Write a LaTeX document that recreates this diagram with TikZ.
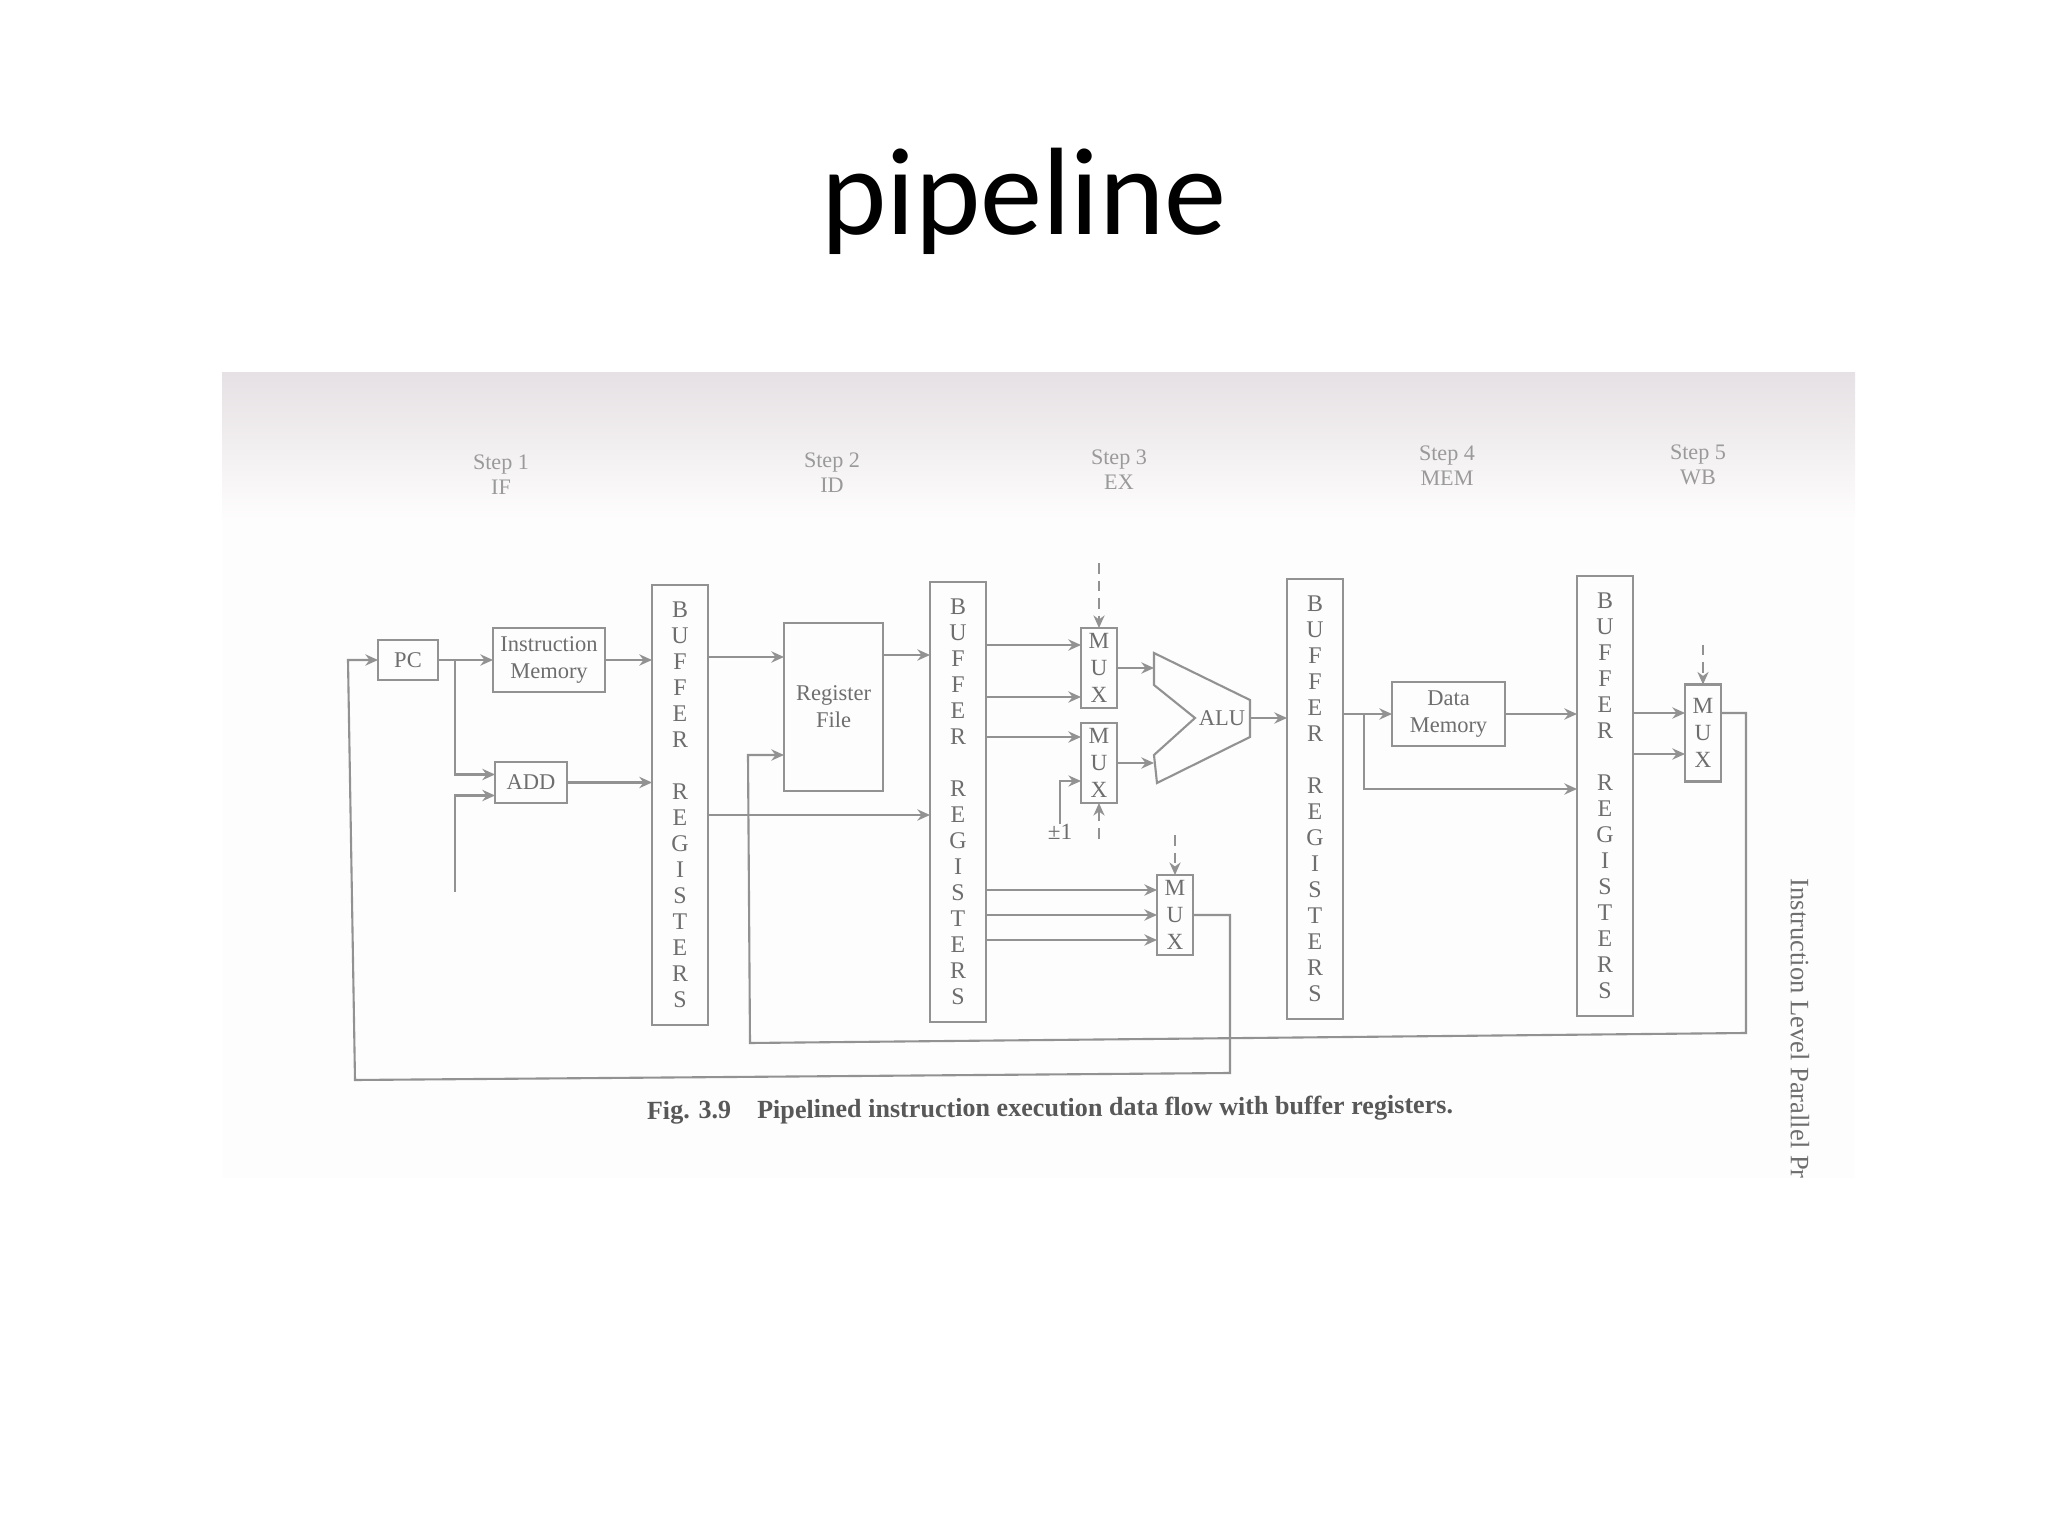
\documentclass[tikz,border=0pt]{standalone}
\usepackage{fontspec}
\setmainfont{Liberation Serif}
\newfontfamily\titlefont{Carlito}
\usetikzlibrary{arrows.meta, positioning, calc}
\usepackage{xcolor}
\definecolor{wireink}{HTML}{929292}
\definecolor{textink}{HTML}{6E6E6E}
\definecolor{scantop}{HTML}{E6E1E4}
\definecolor{scanmid}{HTML}{F9F4F5}
\definecolor{scanpage}{HTML}{FEFDFD}
\newcommand{\bufferletters}{B\\U\\F\\F\\E\\R\\[7.4pt]R\\E\\G\\I\\S\\T\\E\\R\\S}

\begin{document}
\begin{tikzpicture}[
    wire/.style={draw=wireink, line width=0.6pt},
    arrow/.style={wire, ->, >={Stealth[length=3.6pt, width=3.2pt]}},
    ctrl/.style={arrow, densely dashed, line width=0.4pt},
    box/.style={wire, rectangle, inner sep=0pt, outer sep=0pt, align=center, text=textink, font=\fontsize{6.4}{7.6}\selectfont},
    bufbox/.style={box, minimum width=0.56cm, minimum height=4.4cm, font=\fontsize{6.8}{7.4}\selectfont},
    muxbox/.style={box, minimum width=0.36cm, minimum height=0.8cm, font=\fontsize{6.6}{7.6}\selectfont},
    steplabel/.style={align=center, text=textink!70, inner sep=0pt, font=\fontsize{6.3}{7.2}\selectfont}
]
\useasboundingbox (0,0) rectangle (20.48,-15.36);

% Scanned page
\fill[scanpage] (2.22,-3.73) rectangle (18.55,-11.78);
\shade[top color=scantop, middle color=scanmid, bottom color=scanpage] (2.22,-3.73) rectangle (18.55,-5.2);

\node (title) [anchor=base, inner sep=0pt, font=\titlefont\fontsize{35.4}{42}\selectfont] at (10.24,-2.35) {pipeline};

% Step labels
\node (step1) [steplabel] at (5.01,-4.75) {Step 1\\IF};
\node (step2) [steplabel] at (8.32,-4.73) {Step 2\\ID};
\node (step3) [steplabel] at (11.19,-4.70) {Step 3\\EX};
\node (step4) [steplabel] at (14.47,-4.66) {Step 4\\MEM};
\node (step5) [steplabel] at (16.98,-4.65) {Step 5\\WB};

% Fetch
\node (pc) [box, minimum width=0.6cm, minimum height=0.4cm] at (4.08,-6.60) {PC};
\node (imem) [box, minimum width=1.12cm, minimum height=0.64cm, right=0.55cm of pc] {Instruction\\Memory};
\node (add) [box, minimum width=0.72cm, minimum height=0.41cm, below=0.7cm of imem, xshift=-0.18cm] {ADD};
\node (buf1) [bufbox, right=0.47cm of imem, yshift=-1.45cm] {\bufferletters};

\draw [arrow] (pc) -- (imem);
\draw [arrow] (imem.east) -- (imem.east -| buf1.west);
\draw [arrow] (add.east) -- (add.east -| buf1.west);
\coordinate (pctap) at ($(pc.east)+(0.17,0)$);
\coordinate (pcfree) at (4.55,-8.92);
\draw [arrow] (pctap) |- ([yshift=0.08cm]add.west);
\draw [arrow] (pcfree) |- ([yshift=-0.13cm]add.west);

% Decode
\node (regfile) [box, minimum width=0.99cm, minimum height=1.68cm, right=0.76cm of buf1, yshift=0.98cm] {Register\\File};
\node (buf2) [bufbox, right=0.47cm of regfile, yshift=-0.95cm] {\bufferletters};

\draw [arrow] ([yshift=0.5cm]regfile.west -| buf1.east) -- ([yshift=0.5cm]regfile.west);
\draw [arrow] ([yshift=0.52cm]regfile.east) -- ([yshift=0.52cm]regfile.east -| buf2.west);
\draw [arrow] ([yshift=-0.1cm]buf1.east) -- ([yshift=-0.1cm]buf1.east -| buf2.west);

% Execute
\node (mux1) [muxbox, right=0.95cm of buf2, yshift=1.34cm] {M\\U\\X};
\node (mux2) [muxbox, below=0.15cm of mux1] {M\\U\\X};
\node (mux3) [muxbox, below=0.72cm of mux2, xshift=0.76cm] {M\\U\\X};
\node (alu) [box, draw=none, inner sep=0pt] at (12.22,-7.18) {ALU};
\node (plusone) [steplabel, text=textink, font=\fontsize{6.6}{7.6}\selectfont] at (10.60,-8.32) {±1};
\coordinate (alua) at (11.54,-6.53);
\coordinate (alub) at (12.50,-7.00);
\coordinate (aluc) at (12.50,-7.37);
\coordinate (alud) at (11.57,-7.83);
\coordinate (alue) at (11.54,-7.55);
\coordinate (aluf) at (11.95,-7.18);
\coordinate (alug) at (11.54,-6.85);
\draw [wire] (alua) -- (alub) -- (aluc) -- (alud) -- (alue) -- (aluf) -- (alug) -- cycle;

\foreach \dy in {0.23,-0.29} {
    \draw [arrow] ([yshift=\dy cm]mux1.west -| buf2.east) -- ([yshift=\dy cm]mux1.west);
}
\draw [arrow] ([yshift=0.26cm]mux2.west -| buf2.east) -- ([yshift=0.26cm]mux2.west);
\foreach \dy in {0.25,0,-0.25} {
    \draw [arrow] ([yshift=\dy cm]mux3.west -| buf2.east) -- ([yshift=\dy cm]mux3.west);
}
\draw [arrow] (mux1.east) -- (mux1.east -| alua);
\draw [arrow] (mux2.east) -- (mux2.east -| alua);
\draw [ctrl] ([yshift=0.65cm]mux1.north) -- (mux1.north);
\draw [ctrl] ([yshift=-0.36cm]mux2.south) -- (mux2.south);
\draw [ctrl] ([yshift=0.4cm]mux3.north) -- (mux3.north);
\draw [arrow, line width=0.4pt] (plusone.north) |- ([yshift=-0.18cm]mux2.west);

% Memory
\node (buf3) [bufbox] at (13.15,-7.99) {\bufferletters};
\node (dmem) [box, minimum width=1.13cm, minimum height=0.64cm, right=0.49cm of buf3, yshift=0.85cm] {Data\\Memory};
\node (buf4) [bufbox, right=0.72cm of dmem, yshift=-0.82cm] {\bufferletters};

\draw [arrow] (aluc |- alu) -- (alu -| buf3.west);
\draw [arrow] (dmem.west -| buf3.east) -- (dmem.west);
\draw [arrow] (dmem.east) -- (dmem.east -| buf4.west);
\coordinate (memtap) at ($(dmem.west -| buf3.east)+(0.21,0)$);
\draw [arrow] (memtap) |- ([yshift=0.07cm]buf4.west);

% Write back
\node (mux5) [muxbox, minimum height=0.97cm, right=0.52cm of buf4, yshift=0.63cm] {M\\U\\X};
\draw [arrow] ([yshift=0.2cm]mux5.west -| buf4.east) -- ([yshift=0.2cm]mux5.west);
\draw [arrow] ([yshift=-0.21cm]mux5.west -| buf4.east) -- ([yshift=-0.21cm]mux5.west);
\draw [ctrl] ([yshift=0.4cm]mux5.north) -- (mux5.north);

% Feedback
\coordinate (wbcorner) at (17.46,-10.33);
\coordinate (wbleft) at (7.50,-10.43);
\coordinate (wbtop) at (7.48,-7.55);
\coordinate (fbcorner) at (12.30,-10.73);
\coordinate (fbleft) at (3.55,-10.80);
\coordinate (fbtop) at (3.48,-6.60);
\draw [arrow] ([yshift=0.2cm]mux5.east) -| (wbcorner) -- (wbleft) -- (wbtop) -- (wbtop -| regfile.west);
\draw [arrow] (mux3.east) -| (fbcorner) -- (fbleft) -- (fbtop) -- (pc.west);

% Caption
\node (caption) [text=textink!80!black, inner sep=0pt, rotate=0.4, font=\fontsize{7.43}{8}\selectfont\bfseries] at (10.50,-11.10) {Fig. 3.9\quad Pipelined instruction execution data flow with buffer registers.};
\node (sidetext) [anchor=west, text=textink, inner sep=0pt, rotate=-90, font=\fontsize{7.55}{8}\selectfont] at (18.00,-8.78) {Instruction Level Parallel Pr};

\end{tikzpicture}
\end{document}
